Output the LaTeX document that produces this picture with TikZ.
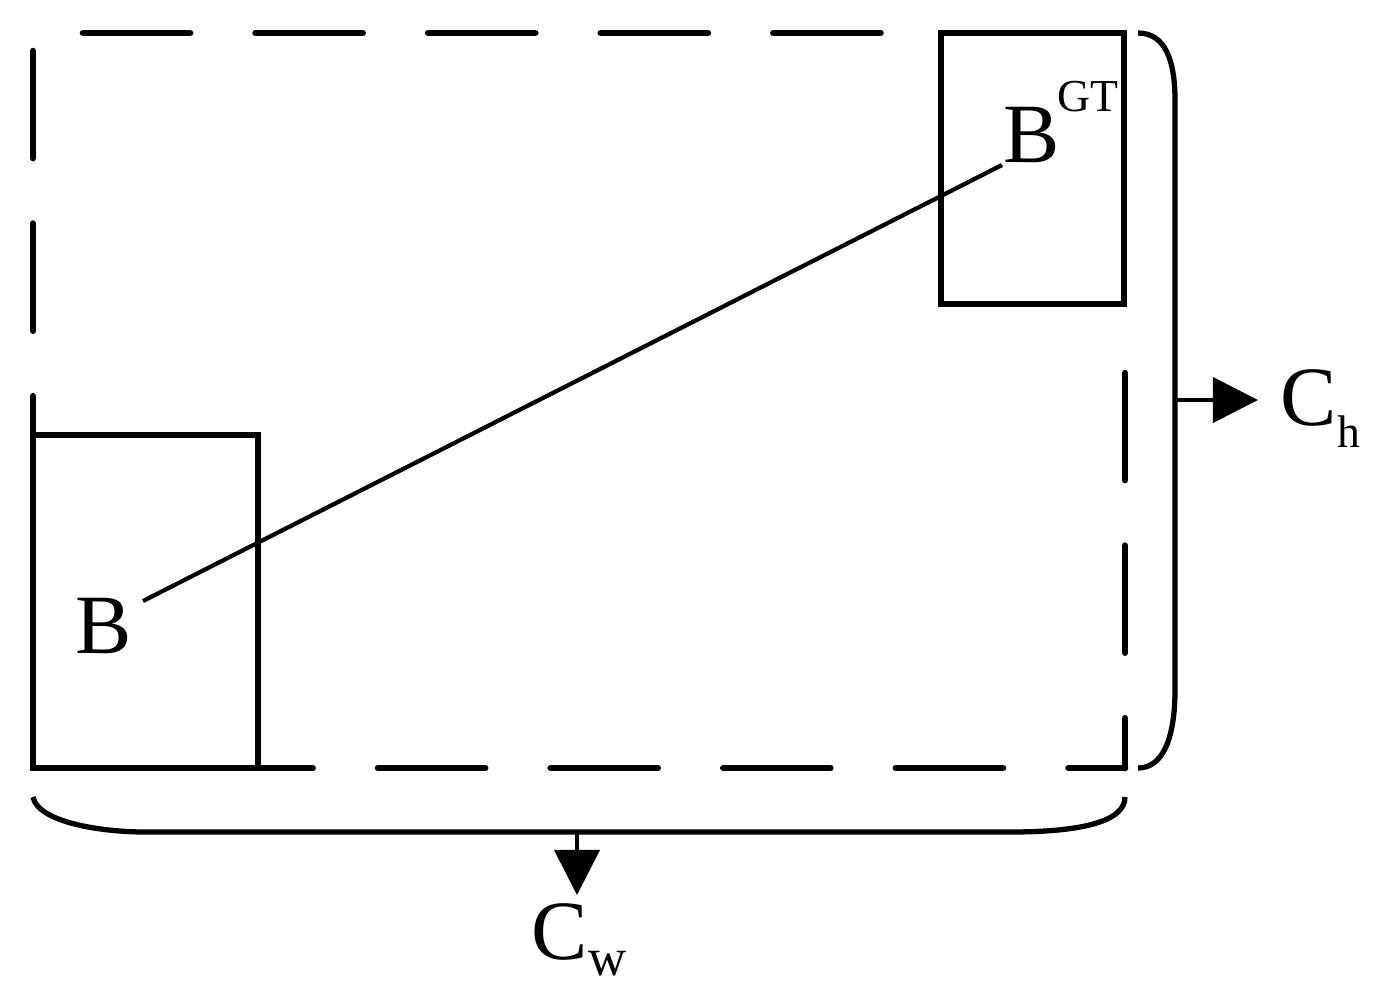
\documentclass[tikz,border=0pt]{standalone}
\usepackage{fontspec}
\setmainfont{Liberation Serif}
\usetikzlibrary{arrows.meta}

\tikzset{
	boxline/.style={line width=1.9pt},
	dashside/.style={line width=1.9pt, line cap=round, dash pattern=on 1.07cm off 0.655cm},
	brace/.style={line width=1.5pt},
	pointer/.style={line width=1.1pt, -{Triangle[length=0.45cm,width=0.45cm]}},
	lbl/.style={inner sep=0pt, anchor=base west, font=\fontsize{24}{28}\selectfont}
}

\begin{document}
\begin{tikzpicture}[x=0.01cm,y=-0.01cm]
		\useasboundingbox (0,0) rectangle (1381,999);
		
		\draw [dashside] (83,33) -- (940,33);
		\draw [dashside] (33,51) -- (33,435);
		\draw [dashside] (1125,373) -- (1125,768);
		\draw [dashside] (205.5,768) -- (1125,768);
		
		\draw [boxline] (33,435) rectangle (258,768);
		\draw [boxline] (941,33) rectangle (1124,304);
		
		\node [lbl] (b) at (75,653) {B};
		\node [lbl] (bgt) at (1003,162) {B\kern-0.03cm\raisebox{0.5cm}{\fontsize{13}{13}\selectfont GT}};
		
		\coordinate (b end) at (143,601);
		\coordinate (gt end) at (1002,165);
		\draw [line width=1.2pt] (b end) -- (gt end);
		
		\draw [brace] (1138,33) .. controls (1165,33) and (1175,60) .. (1175,100) -- (1175,690)
			.. controls (1175,740) and (1162,768) .. (1138,768);
		\draw [brace] (33,797) .. controls (38,822) and (100,832) .. (145,832) -- (1010,832)
			.. controls (1080,832) and (1125,822) .. (1125,797);
		
		\coordinate (h mid) at (1175,400);
		\coordinate (h tip) at (1258,400);
		\coordinate (w mid) at (577,832);
		\coordinate (w tip) at (577,895);
		\draw [pointer] (h mid) -- (h tip);
		\draw [pointer] (w mid) -- (w tip);
		
		\node [lbl] (ch) at (1280,425) {C\raisebox{-0.22cm}{\fontsize{13}{13}\selectfont h}};
		\node [lbl] (cw) at (531,959) {C\raisebox{-0.16cm}{\fontsize{15}{15}\selectfont w}};
\end{tikzpicture}
\end{document}
